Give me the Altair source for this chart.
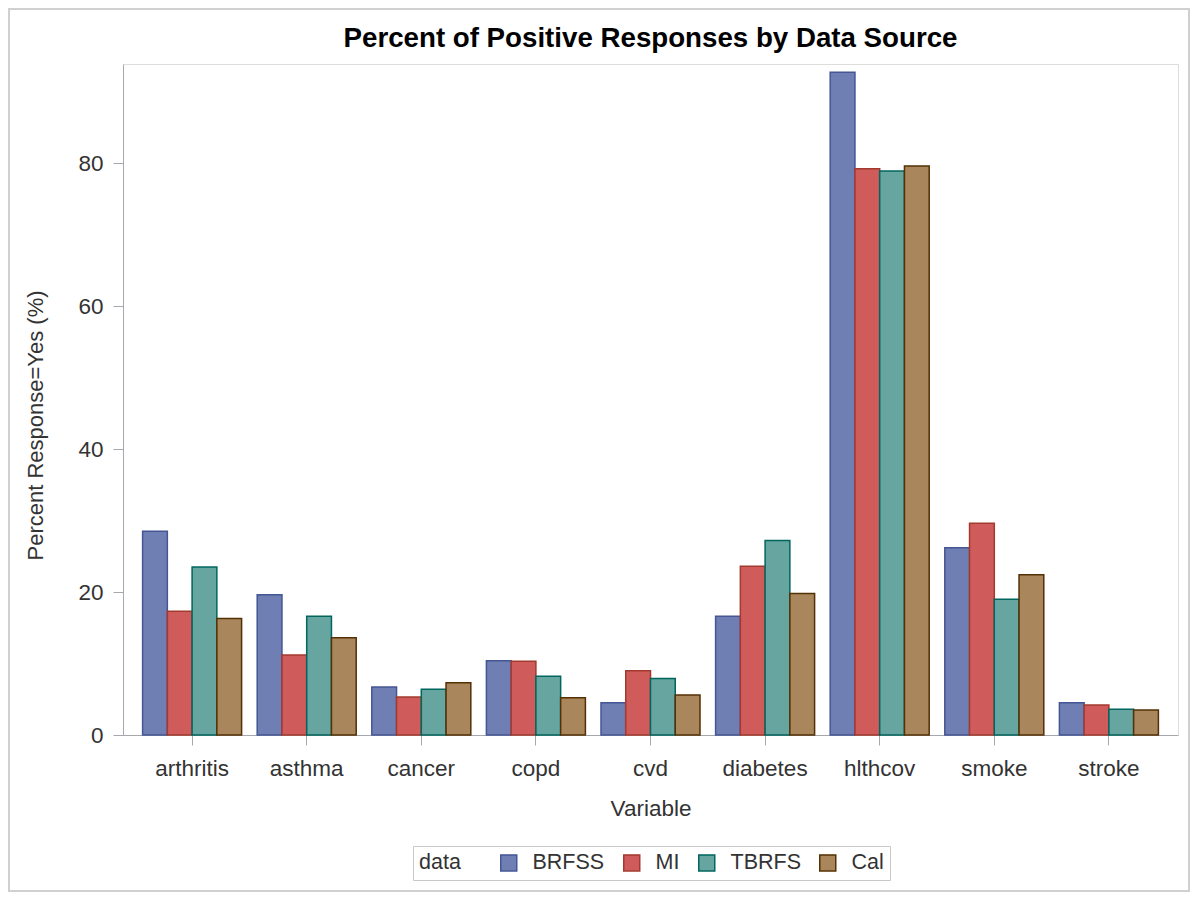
import altair as alt
import pandas as pd

categories = ["arthritis", "asthma", "cancer", "copd", "cvd", "diabetes", "hlthcov", "smoke", "stroke"]
sources = ["BRFSS", "MI", "TBRFS", "Cal"]
brfss = [28.5, 19.6, 6.7, 10.4, 4.5, 16.6, 92.7, 26.2, 4.5]
mi = [17.3, 11.2, 5.3, 10.3, 9.0, 23.6, 79.2, 29.6, 4.2]
tbrfs = [23.5, 16.6, 6.4, 8.2, 7.9, 27.2, 78.9, 19.0, 3.6]
cal = [16.3, 13.6, 7.3, 5.2, 5.6, 19.8, 79.6, 22.4, 3.5]
title_text = ["Percent of Positive Responses by Data Source"]

fill_colors = ["#6F7EB3", "#D05B5B", "#66A5A0", "#A9865B"]
stroke_colors = ["#445694", "#A23A2E", "#01665E", "#543005"]

rows = []
for src, vals in zip(sources, [brfss, mi, tbrfs, cal]):
    for c, v in zip(categories, vals):
        rows.append({"Variable": c, "data": src, "pct": v})
df = pd.DataFrame(rows)

FONT = "Liberation Sans"
AXC = "#A5A9AD"

bars = alt.Chart(df).mark_bar(strokeWidth=1.5, strokeOpacity=1, opacity=1).encode(
    x=alt.X("Variable:N", sort=categories,
            scale=alt.Scale(paddingInner=0, paddingOuter=0.103),
            axis=alt.Axis(title="Variable", labelAngle=0, labelFontSize=22.5, titleFontSize=22.5,
                          titleFontWeight="normal", tickSize=10, labelPadding=12, titlePadding=18,
                          domainColor=AXC, tickColor=AXC, labelColor="#333333",
                          titleColor="#333333", labelFont=FONT, titleFont=FONT, grid=False)),
    xOffset=alt.XOffset("data:N", sort=sources,
                        scale=alt.Scale(paddingInner=0, paddingOuter=0.315)),
    y=alt.Y("pct:Q", scale=alt.Scale(domain=[0, 93.85], nice=False, zero=True),
            axis=alt.Axis(title="Percent Response=Yes (%)", values=[0, 20, 40, 60, 80],
                          labelFontSize=22.5, titleFontSize=22, titleFontWeight="normal",
                          tickSize=10, labelPadding=10,
                          titleX=-88, titleY=361, titleBaseline="middle", titleAngle=270,
                          domainColor=AXC, tickColor=AXC, labelColor="#333333",
                          titleColor="#333333", labelFont=FONT, titleFont=FONT, grid=False)),
    color=alt.Color("data:N", sort=sources,
                    scale=alt.Scale(domain=sources, range=fill_colors),
                    legend=alt.Legend(title="data", orient="none", legendX=290, legendY=782,
                                      direction="horizontal",
                                      titleOrient="left", titleFontWeight="normal",
                                      titleFontSize=21.5, labelFontSize=21.5, titleFont=FONT,
                                      labelFont=FONT, titleColor="#333333", labelColor="#333333",
                                      symbolType="square", symbolSize=256, symbolStrokeWidth=1.5,
                                      titlePadding=37, columnPadding=15, labelOffset=13,
                                      strokeColor="#C8C8C8", padding=6,
                                      symbolOpacity=1)),
    stroke=alt.Stroke("data:N", sort=sources,
                      scale=alt.Scale(domain=sources, range=stroke_colors),
                      legend=alt.Legend(title="data")),
)

frame_df = pd.DataFrame({"k": [0]})
frame = alt.Chart(frame_df).mark_rect(fill=None, stroke="#D0D0D0", strokeWidth=2).encode(
    x=alt.value(-114), x2=alt.value(1066), y=alt.value(-55), y2=alt.value(827)
)

title = alt.Chart(pd.DataFrame({"t": title_text})).mark_text(
    font=FONT, fontSize=27.7, fontWeight="bold", color="#000000",
    align="center", baseline="alphabetic"
).encode(text="t:N", x=alt.value(527.5), y=alt.value(-17))

chart = alt.layer(bars, frame, title).properties(
    width=1055,
    height=671,
    autosize=alt.AutoSizeParams(type="none"),
    padding={"left": 115, "top": 56, "right": 12, "bottom": 157},
).configure_view(stroke=AXC, strokeWidth=1.2).configure(background="white")

chart.save("out.html", embed_options={"renderer": "svg", "actions": False})
